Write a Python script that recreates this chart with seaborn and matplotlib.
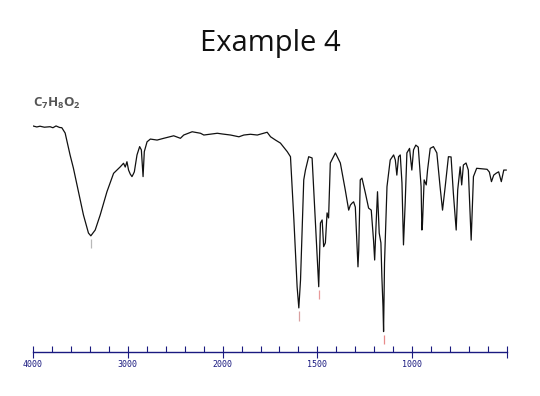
import numpy as np
import pandas as pd
import matplotlib
matplotlib.use("Agg")
import matplotlib.pyplot as plt
import seaborn as sns

# IR spectrum of C7H8O2 (wavenumber cm-1, transmittance %)
wavenumber = [4000, 3960, 3926, 3880, 3820, 3790, 3757, 3720, 3696, 3661, 3609, 3574, 3521, 3468,
              3415, 3390, 3344, 3291, 3220, 3150, 3079, 3045, 3027, 3009, 2992, 2974, 2956,
              2942, 2931, 2903, 2875, 2857, 2839, 2826, 2797, 2762, 2691, 2621, 2516, 2445,
              2410, 2321, 2233, 2198, 2056, 2000,
              1958, 1914, 1888, 1853, 1817, 1783, 1765, 1747, 1721, 1695, 1659, 1642, 1624,
              1607, 1598, 1589, 1572, 1563, 1546, 1528, 1511, 1502, 1493, 1484, 1475, 1467,
              1458, 1449, 1441, 1432, 1405, 1379, 1353, 1335, 1326, 1317, 1309, 1300, 1291,
              1286, 1282, 1274, 1265, 1247, 1230, 1216, 1204, 1198, 1191, 1183, 1174, 1165,
              1160, 1154, 1151, 1146, 1133, 1116, 1098, 1089, 1081, 1072, 1063, 1054, 1046,
              1037, 1028, 1014, 1002, 993, 981, 968, 953, 949, 946, 937, 926, 919, 905, 888,
              870, 853, 840, 826, 809, 795, 783, 768, 760, 747, 739, 730, 716, 704, 689, 677,
              660, 605, 593, 582, 570, 556, 544, 530, 517, 503]
transmittance = [89.7, 89.3, 89.6, 89.2, 89.4, 89.0, 89.7, 89.1, 89.0, 86.9, 78.2, 73.0, 63.6, 54.4,
                 47.2, 46.1, 48.4, 54.4, 63.6, 70.9, 73.5, 74.9, 73.4, 75.5, 72.2, 70.6, 69.6,
                 70.6, 71.5, 78.2, 81.5, 80.2, 69.6, 79.5, 83.4, 84.5, 84.1, 84.8, 85.8, 84.8,
                 86.1, 87.4, 86.8, 86.1, 86.8, 86.5,
                 86.1, 85.4, 86.1, 86.4, 86.1, 86.8, 87.2, 85.4, 84.1, 82.9, 79.5, 77.5, 52.4,
                 25.9, 17.5, 28.6, 68.3, 72.2, 77.5, 77.0, 52.4, 39.3, 25.9, 51.2, 52.4, 41.8,
                 43.3, 55.2, 53.2, 75.0, 79.0, 75.0, 64.3, 56.3, 58.3, 59.1, 59.6, 57.5, 41.8,
                 33.8, 40.5, 68.3, 69.0, 63.1, 57.1, 56.3, 44.4, 36.5, 49.7, 63.6, 47.2, 43.3,
                 29.9, 18.0, 8.1, 35.3, 65.6, 76.2, 78.2, 76.2, 70.2, 77.5, 78.2, 67.1, 42.5,
                 59.1, 79.0, 80.8, 72.2, 80.2, 82.1, 81.3, 65.6, 48.4, 50.4, 68.3, 66.3, 72.2,
                 80.8, 81.5, 79.0, 65.6, 56.3, 65.6, 77.5, 77.4, 63.1, 48.4, 64.3, 73.5, 66.3,
                 74.2, 75.0, 72.2, 44.4, 69.6, 72.9, 72.5, 71.4, 67.6, 70.2, 71.0, 71.5, 67.6,
                 72.2, 72.2]
marked_peaks = [3390, 1598, 1493, 1151]
marker_colors = ["#b8b8b8", "#d9a0a0", "#e89a9a", "#e88a8a"]
major_ticks = [4000, 3000, 2000, 1500, 1000]
major_labels = ["4000", "3000", "2000", "1500", "1000"]

df = pd.DataFrame({"wn": wavenumber, "T": transmittance})

sns.set_theme(style="white")
plt.rcParams["font.family"] = ["Open Sans", "DejaVu Sans"]
plt.rcParams["mathtext.fontset"] = "custom"
plt.rcParams["mathtext.rm"] = "Open Sans"
plt.rcParams["mathtext.bf"] = "Open Sans:bold"

fig = plt.figure(figsize=(5.4, 3.96), dpi=100)
ax = fig.add_axes([33 / 540, 1 - 352 / 396, 474 / 540, 252 / 396])


# IR chart convention: region below 2000 cm-1 expanded 2x
def fwd(w):
    w = np.asarray(w, dtype=float)
    return np.where(w >= 2000, w, 2000 - 2 * (2000 - w))


def inv(u):
    u = np.asarray(u, dtype=float)
    return np.where(u >= 2000, u, 2000 - (2000 - u) / 2)


ax.set_xscale("function", functions=(fwd, inv))
sns.lineplot(data=df, x="wn", y="T", sort=False, color="#111111", lw=0.9, ax=ax, estimator=None)
ax.set_xlim(4000, 500)
ax.set_ylim(0, 100)

# peak markers
for wpk, col in zip(marked_peaks, marker_colors):
    i = int(np.argmin(np.abs(np.array(wavenumber) - wpk)))
    tmin = transmittance[i]
    ax.vlines(wpk, tmin - 5.0, tmin - 1.3, color=col, lw=0.9)

# axis styling
for s in ["top", "left", "right"]:
    ax.spines[s].set_visible(False)
navy = "#1a1a80"
ax.spines["bottom"].set_color(navy)
ax.spines["bottom"].set_linewidth(1.0)
ax.set_yticks([])
ax.set_xlabel("")
ax.set_ylabel("")
ax.set_xticks(major_ticks + [500])
ax.set_xticklabels(major_labels + [""])
minor = list(range(3800, 2000, -200)) + list(range(1900, 500, -100))
minor = [m for m in minor if m not in major_ticks]
ax.set_xticks(minor, minor=True)
ax.tick_params(axis="x", which="major", direction="inout", length=8, width=0.8, color=navy,
               labelsize=6, labelcolor=navy, pad=2, bottom=True)
ax.tick_params(axis="x", which="minor", direction="in", length=4.5, width=0.8, color=navy, bottom=True)
for lab in ax.get_xticklabels():
    lab.set_family("DejaVu Sans Mono")
    lab.set_fontstretch("condensed")

fig.text(0.5, 1 - 44 / 396, "Example 4", ha="center", va="center", fontsize=21, color="#111111")
fig.text(33 / 540, 1 - 103 / 396, r"$\mathbf{C_7H_8O_2}$", ha="left", va="center",
         fontsize=9.5, color="#555555")

fig.savefig("out.png", dpi=100, facecolor="white")
